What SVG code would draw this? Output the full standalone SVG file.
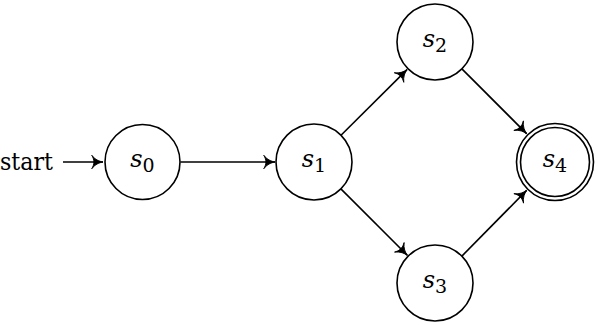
<svg xmlns="http://www.w3.org/2000/svg" width="598" height="325" viewBox="0 0 598 325">
<style>
.st{fill:#fff;stroke:#000;stroke-width:1.6}
.ed{fill:none;stroke:#000;stroke-width:1.6}
.lb{font-family:"DejaVu Serif",serif;font-size:24px;font-style:italic;text-anchor:middle}
.sub{font-style:normal;font-size:19px}
.tx{font-family:"DejaVu Serif",serif;font-size:25px}
</style>
<defs>
<marker id="ah" markerUnits="userSpaceOnUse" markerWidth="18" markerHeight="18" refX="1" refY="0" viewBox="-12 -8 16 16" orient="auto">
<path d="M-9,-6 C-6,-2 -2,-0.5 1,0 C-2,0.5 -6,2 -9,6 C-6.5,2 -6.5,-2 -9,-6 Z" fill="#000" stroke="#000" stroke-width="0.8" stroke-linejoin="round"/>
</marker>
</defs>
<text class="tx" x="0" y="170" textLength="53" lengthAdjust="spacingAndGlyphs">start</text>
<g id="edges">
<line class="ed" x1="63" y1="162" x2="103" y2="162" marker-end="url(#ah)"/>
<line class="ed" x1="180.5" y1="162" x2="275" y2="162" marker-end="url(#ah)"/>
<line class="ed" x1="341" y1="135.2" x2="407" y2="69.6" marker-end="url(#ah)"/>
<line class="ed" x1="461.9" y1="68.9" x2="526.6" y2="133.6" marker-end="url(#ah)"/>
<line class="ed" x1="340.9" y1="188.9" x2="407.3" y2="255.3" marker-end="url(#ah)"/>
<line class="ed" x1="461.9" y1="256.1" x2="526.6" y2="190.4" marker-end="url(#ah)"/>
</g>
<g id="s0"><circle class="st" cx="142.5" cy="162" r="37.5"/><text class="lb" x="142.5" y="167">s<tspan class="sub" dy="5">0</tspan></text></g>
<g id="s1"><circle class="st" cx="314" cy="162" r="38"/><text class="lb" x="314" y="167">s<tspan class="sub" dy="5">1</tspan></text></g>
<g id="s2"><circle class="st" cx="435" cy="42" r="38"/><text class="lb" x="435" y="47">s<tspan class="sub" dy="5">2</tspan></text></g>
<g id="s3"><circle class="st" cx="435" cy="283" r="38"/><text class="lb" x="435" y="288">s<tspan class="sub" dy="5">3</tspan></text></g>
<g id="s4"><circle class="st" cx="555" cy="162" r="38.5"/><circle class="st" cx="555" cy="162" r="34.5"/><text class="lb" x="555" y="167">s<tspan class="sub" dy="5">4</tspan></text></g>
</svg>
